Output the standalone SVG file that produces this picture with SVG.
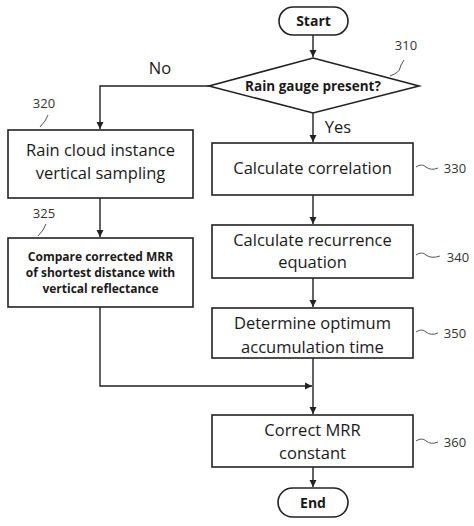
<svg xmlns="http://www.w3.org/2000/svg" width="474" height="526" viewBox="0 0 474 526">
<style>
.box{fill:#fff;stroke:#222;stroke-width:1.6}
.t{font-family:"Open Sans","Liberation Sans",sans-serif;font-size:16.5px;fill:#1a1a1a;text-anchor:middle}
.b{font-family:"Open Sans","Liberation Sans",sans-serif;font-weight:bold;fill:#1a1a1a;text-anchor:middle}
.n{font-family:"Open Sans","Liberation Sans",sans-serif;font-size:13px;fill:#333;text-anchor:middle}
.c{fill:none;stroke:#222;stroke-width:1.4}
.lead{fill:none;stroke:#555;stroke-width:1}
</style>
<defs>
<marker id="ah" markerWidth="8" markerHeight="8" refX="7" refY="4" orient="auto" markerUnits="userSpaceOnUse">
<path d="M0,0.5 L7,4 L0,7.5 Z" fill="#222"/>
</marker>
</defs>
<rect width="474" height="526" fill="#fff"/>
<g id="connectors">
<path class="c" d="M313,35 V57" marker-end="url(#ah)"/>
<path class="c" d="M209,86 H100 V129" marker-end="url(#ah)"/>
<path class="c" d="M313,113 V142" marker-end="url(#ah)"/>
<path class="c" d="M100,198 V237" marker-end="url(#ah)"/>
<path class="c" d="M313,195 V224" marker-end="url(#ah)"/>
<path class="c" d="M313,278 V307" marker-end="url(#ah)"/>
<path class="c" d="M100,307 V386 H312" marker-end="url(#ah)"/>
<path class="c" d="M313,358 V414" marker-end="url(#ah)"/>
<path class="c" d="M313,467 V487" marker-end="url(#ah)"/>
<text class="t" x="160" y="74">No</text>
<text class="t" x="338" y="133">Yes</text>
</g>
<g id="start">
<rect class="box" x="279" y="7" width="69" height="28" rx="14"/>
<text class="b" x="313.5" y="26" font-size="14">Start</text>
</g>
<g id="n310">
<polygon class="box" points="313,58 419,86 313,113 209,86"/>
<text class="b" x="313" y="91" font-size="13.5">Rain gauge present?</text>
<text class="n" x="406" y="50">310</text>
<path class="lead" d="M404,60 q-4,6 -4,8 q0,4 -10,8"/>
</g>
<g id="n320">
<rect class="box" x="8" y="130" width="185" height="68"/>
<text class="t" x="100.5" y="156">Rain cloud instance</text>
<text class="t" x="100.5" y="179">vertical sampling</text>
<text class="n" x="44" y="108">320</text>
<path class="lead" d="M48,115 q-2,6 -8,12"/>
</g>
<g id="n325">
<rect class="box" x="8" y="238" width="185" height="69"/>
<text class="b" x="100.5" y="261" font-size="12">Compare corrected MRR</text>
<text class="b" x="100.5" y="277" font-size="12">of shortest distance with</text>
<text class="b" x="100.5" y="293" font-size="12">vertical reflectance</text>
<text class="n" x="44" y="218">325</text>
<path class="lead" d="M46,224 q-2,6 -8,12"/>
</g>
<g id="n330">
<rect class="box" x="212" y="143" width="201" height="52"/>
<text class="t" x="312.5" y="174">Calculate correlation</text>
<text class="n" x="455" y="173">330</text>
<path class="lead" d="M416,167 q6,-4 10,0 q5,4 12,1"/>
</g>
<g id="n340">
<rect class="box" x="212" y="225" width="201" height="53"/>
<text class="t" x="312.5" y="246">Calculate recurrence</text>
<text class="t" x="312.5" y="268">equation</text>
<text class="n" x="458" y="262">340</text>
<path class="lead" d="M416,255 q6,-4 10,0 q5,4 14,1"/>
</g>
<g id="n350">
<rect class="box" x="212" y="308" width="201" height="50"/>
<text class="t" x="312.5" y="329">Determine optimum</text>
<text class="t" x="312.5" y="353">accumulation time</text>
<text class="n" x="455" y="338">350</text>
<path class="lead" d="M416,332 q6,-4 10,0 q5,4 12,1"/>
</g>
<g id="n360">
<rect class="box" x="212" y="415" width="201" height="52"/>
<text class="t" x="312.5" y="436">Correct MRR</text>
<text class="t" x="312.5" y="459">constant</text>
<text class="n" x="455" y="447">360</text>
<path class="lead" d="M416,441 q6,-4 10,0 q5,4 12,1"/>
</g>
<g id="end">
<rect class="box" x="278" y="488" width="70" height="29" rx="14.5"/>
<text class="b" x="313" y="507.5" font-size="14">End</text>
</g>
</svg>
